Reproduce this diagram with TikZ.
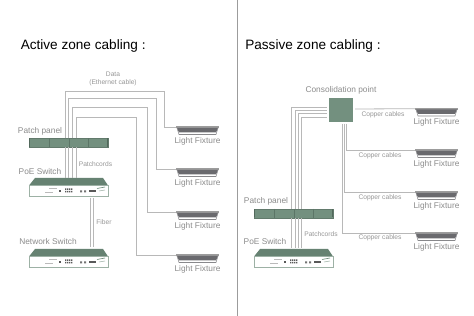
\documentclass[tikz,border=0pt]{standalone}
\usepackage{fontspec}
\setmainfont{Liberation Sans}
\newfontfamily\cjk{Noto Sans CJK SC}
\newcommand{\widecolon}{{\cjk\fontsize{8pt}{12pt}\selectfont\hspace{2.4pt}：}}
\usetikzlibrary{calc}
\definecolor{gear}{HTML}{73907F}
\definecolor{geardark}{HTML}{668272}
\definecolor{wire}{HTML}{B8B8B8}
\definecolor{label}{HTML}{8C8C8C}
\definecolor{lamp}{HTML}{6A6A6E}
\tikzset{
  x=0.75pt, y=-0.75pt,
  cable/.style={draw=wire, line width=0.6pt, line join=miter},
  divider/.style={draw=wire!85!black, line width=0.9pt},
  caption/.style={text=label, font=\fontsize{6.25pt}{7pt}\selectfont, inner sep=0pt},
  smallcaption/.style={text=label!90, font=\fontsize{5pt}{6pt}\selectfont, inner sep=0pt, align=center},
  heading/.style={text=black, font=\fontsize{10.2pt}{12pt}\selectfont, anchor=west, inner sep=0pt},
  panelbox/.style={fill=gear, draw=gear!85!black, line width=0.2pt, minimum width=59.25pt, minimum height=6.4pt, inner sep=0pt, anchor=north west},
  switchbody/.style={fill=white, draw=gear!70, line width=0.35pt, minimum width=59.25pt, minimum height=8.2pt, inner sep=0pt, anchor=north west},
  lampbar/.style={fill=wire!85!black, minimum width=32.25pt, minimum height=1.4pt, inner sep=0pt, anchor=north west},
  squarebox/.style={fill=gear, minimum width=18pt, minimum height=18pt, inner sep=0pt, anchor=north west},
}
% patch panel with four segments: name, left, top
\newcommand{\patchpanel}[3]{%
  \node[panelbox] (#1) at (#2,#3) {};
  \foreach \d in {0.25,0.5,0.75}
    \draw[geardark!90!black, line width=0.2pt] ($(#1.north west)!\d!(#1.north east)$) -- ($(#1.south west)!\d!(#1.south east)$);
  \fill[geardark!80!black] (#1.north west) rectangle ++(0.8,8.5);
  \fill[geardark!80!black] (#1.north east) rectangle ++(-0.8,8.5);
}
% switch with sloped green lid and a row of ports: name, left, top
\newcommand{\netswitch}[3]{%
  \fill[geardark] (#2,#3+7.5) -- (#2+6,#3) -- (#2+74,#3) -- (#2+79,#3+7.5) -- cycle;
  \node[switchbody] (#1) at (#2,#3+7) {};
  \foreach \p in {36,38,40,42}
    \fill[black!65] (#2+\p,#3+10.5) rectangle ++(1.3,1.5) (#2+\p,#3+13) rectangle ++(1.3,1.5);
  \fill[black!65] (#2+30,#3+12) rectangle ++(1.5,2);
  \fill[black!55] (#2+51,#3+12.5) rectangle ++(2,2) (#2+55,#3+12.5) rectangle ++(2,2);
  \fill[black!65] (#2+60,#3+12.5) rectangle ++(7,2);
  \draw[label!60, line width=0.3pt] (#2+16,#3+14.5) -- ++(8,0) (#2+20,#3+10) -- ++(8,0);
  \draw[gear, line width=0.5pt] (#2+68,#3+10.5) -- ++(8,-1.5);
  \draw[gear!70, line width=0.4pt] (#2+70,#3+13) -- ++(6,-1);
}
% lamp fitting with bar, dark shade and printed name: name, left, top
\newcommand{\fixture}[3]{%
  \node[lampbar] (#1) at (#2,#3) {};
  \fill[lamp] (#2+1,#3+2) -- (#2+42,#3+2) -- (#2+40,#3+6.5) -- (#2+3,#3+6.5) -- cycle;
  \draw[lamp!80, line width=0.4pt] (#2+1,#3+2) -- (#2+3,#3+8.5) -- (#2+40,#3+8.5) -- (#2+42,#3+2);
  \node[caption] (#1name) at (#2+21.5,#3+15) {Light Fixture};
}
\begin{document}
\begin{tikzpicture}
\useasboundingbox (0,0) rectangle (474,316);
\fill[white] (0,0) rectangle (474,316);

% panel separator
\coordinate (sepTop) at (237.5,0);
\coordinate (sepBottom) at (237.5,316);
\draw[divider] (sepTop) -- (sepBottom);

\node[heading] (titleActive) at (20.5,45.5) {Active zone cabling\widecolon};
\node[heading] (titlePassive) at (245,45.5) {Passive zone cabling\widecolon};

% ---- active zone: equipment
\patchpanel{panelA}{29}{138.5}
\netswitch{poeA}{29}{178}
\netswitch{netA}{29}{249}
\fixture{fixA}{176}{126}
\fixture{fixB}{176}{168}
\fixture{fixC}{176}{211}
\fixture{fixD}{176}{254}

% ---- active zone: ethernet runs over the patch panel to the fixtures
\foreach \n/\x/\top/\turn/\fx in {1/65/91/164/fixA,2/68/98/156/fixB,3/72/107/147/fixC,4/76/117/136/fixD}{
  \coordinate (upA\n) at (\x,138.5);
  \coordinate (lowA\n) at (\x,147.5);
  \coordinate (inA\n) at (\x,178);
  \coordinate (turnA\n) at (\turn,\top);
  \draw[cable] (upA\n) |- (turnA\n) |- (\fx.west);
  \draw[cable] (lowA\n) -- (inA\n);
}
% fibre between the two switches
\foreach \n/\x in {1/90,2/93}{
  \coordinate (fibreTop\n) at (\x,198);
  \coordinate (fibreEnd\n) at (\x,247);
  \draw[cable] (fibreTop\n) -- (fibreEnd\n);
}

\node[caption] (lblPanelA) at (40,131) {Patch panel};
\node[caption] (lblPoeA) at (40,172) {PoE Switch};
\node[caption] (lblNetA) at (48,242) {Network Switch};
\node[smallcaption] (lblCordsA) at (95.5,164) {Patchcords};
\node[smallcaption] (lblFibre) at (104,222.5) {Fiber};
\node[smallcaption] (lblData) at (113,79) {Data\\(Ethernet cable)};

% ---- passive zone: equipment
\patchpanel{panelB}{254}{209}
\netswitch{poeB}{254}{249}
\node[squarebox] (cp) at (329,98) {};
\fixture{fixE}{415}{107.5}
\fixture{fixF}{415}{149}
\fixture{fixG}{415}{191}
\fixture{fixH}{415}{232}

% ---- passive zone: runs from the patch panel to the consolidation point
\foreach \n/\x/\y in {1/291/107,2/295/110,3/298/113,4/301/117}{
  \coordinate (upB\n) at (\x,209);
  \coordinate (lowB\n) at (\x,218);
  \coordinate (inB\n) at (\x,248);
  \coordinate (cpIn\n) at (327,\y);
  \draw[cable] (upB\n) |- (cpIn\n);
  \draw[cable] (lowB\n) -- (inB\n);
}
% ---- passive zone: copper cables out to the fixtures
\coordinate (cpOutA) at (355,109);
\draw[cable] (cpOutA) -- (fixE.west);
\foreach \n/\x/\fx in {2/346/fixF,3/344/fixG,4/342/fixH}{
  \coordinate (cpOut\n) at (\x,124);
  \draw[cable] (cpOut\n) |- (\fx.west);
}

\node[caption] (lblCp) at (341,90) {Consolidation point};
\node[caption] (lblPanelB) at (266,201) {Patch panel};
\node[caption] (lblPoeB) at (265,242) {PoE Switch};
\node[smallcaption] (lblCordsB) at (321,234) {Patchcords};
\node[smallcaption] (lblCopA) at (383,114.5) {Copper cables};
\node[smallcaption] (lblCopB) at (380,156) {Copper cables};
\node[smallcaption] (lblCopC) at (380,197.5) {Copper cables};
\node[smallcaption] (lblCopD) at (380,238) {Copper cables};
\end{tikzpicture}
\end{document}
